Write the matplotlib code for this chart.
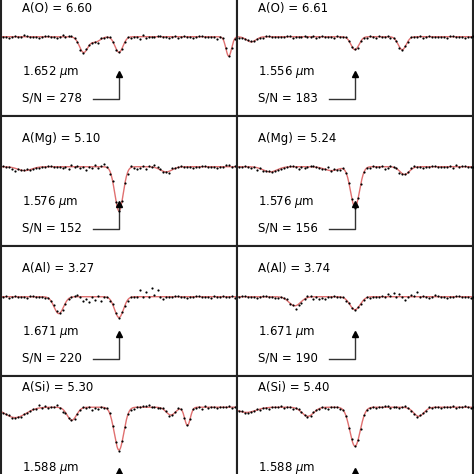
import numpy as np
import matplotlib
matplotlib.use("Agg")
import matplotlib.pyplot as plt

labels = ["A(O) = 6.60", "A(O) = 6.61", "A(Mg) = 5.10", "A(Mg) = 5.24",
          "A(Al) = 3.27", "A(Al) = 3.74", "A(Si) = 5.30", "A(Si) = 5.40"]
waves = ["1.652", "1.556", "1.576", "1.576", "1.671", "1.671", "1.588", "1.588"]
snr = ["278", "183", "152", "156", "220", "190", None, None]
cont = [0.61, 0.61, 0.61, 0.61, 0.61, 0.61, 0.76, 0.76]
centers = [[0.35, 0.40, 0.50, 0.965], [0.06, 0.50, 0.70], [0.10, 0.50, 0.70],
           [0.14, 0.40, 0.50, 0.71], [0.245, 0.50], [0.245, 0.50],
           [0.06, 0.30, 0.50, 0.72, 0.79], [0.04, 0.30, 0.50, 0.77]]
depths = [[0.12, 0.04, 0.12, 0.15], [0.04, 0.10, 0.10], [0.03, 0.34, 0.04],
          [0.04, 0.03, 0.31, 0.06], [0.13, 0.16], [0.07, 0.10],
          [0.08, 0.10, 0.33, 0.06, 0.14], [0.04, 0.07, 0.30, 0.07]]
widths = [[0.018, 0.02, 0.017, 0.012], [0.02, 0.017, 0.017], [0.03, 0.018, 0.025],
          [0.03, 0.03, 0.019, 0.02], [0.02, 0.019], [0.025, 0.022],
          [0.045, 0.02, 0.02, 0.02, 0.012], [0.04, 0.025, 0.022, 0.022]]
resid = [
    [0, -1, 1, 0, 1, 0, -1, 1, 0, -1, 2, 1, 0, -1, 1, 0, -2, 0, 1, -1, 0, 1, 0, -2, -1, 0, 1, 0, -1, 1, 0, 0, -1, 1, 0, 0, -2, 1, 0, 0],
    [-1, 0, 1, 0, -1, 1, 0, 0, 1, -1, 0, 1, 0, -1, 1, 0, -1, 0, 1, 0, -1, 0, 1, -1, 0, 1, 0, -1, 0, 1, 0, -1, 1, 0, 0, -1, 1, 0, -1, 0],
    [1, 0, -3, 0, 1, 0, -1, 0, 1, 0, -1, -2, 0, -1, -3, -1, -1, 3, -2, -1, 0, -2, -1, -1, -2, 0, 1, -1, -2, 0, 1, 0, -1, 0, 1, 0, -1, 0, 2, 1],
    [0, 1, -1, -2, -1, 1, 0, -1, 0, 1, -2, -1, 1, 0, -1, 3, 1, -1, 0, 0, 1, 0, -1, 0, 1, -1, 0, -2, 0, 1, 0, -1, 0, 1, 0, 0, -1, 0, 1, 0],
    [0, -1, 1, 0, -1, 1, 0, -1, 0, 1, -1, 0, 1, 0, -2, 0, 1, 0, -1, 0, 1, -1, 0, 6, 5, 8, 6, -2, 0, 1, 0, -1, 0, 1, 0, -1, 0, 1, 0, -1],
    [0, 1, 0, -1, 1, 0, -1, 0, 1, 0, -1, 0, 1, 0, -1, 0, 1, 0, -1, 0, 1, 0, -1, 0, 1, 3, 4, 3, -3, 2, 5, 1, -1, 2, 0, -1, 0, 1, 0, -1],
    [0, 1, 0, -1, 0, 1, 3, 1, 0, 2, -3, 0, -1, 0, -1, -3, -2, 0, 1, 0, 1, 0, -1, 0, 1, 0, -1, 1, -1, 0, 1, 0, 1, 0, 1, 0, -1, 0, 1, 0],
    [0, -1, 0, 1, 0, -1, 0, 1, 0, -1, 1, 0, -1, 0, 1, -2, 0, -1, 0, 1, 0, 1, 0, -1, 0, 1, 0, -1, 1, 0, -1, 0, 1, 0, -1, 0, 1, 0, 1, -1],
]

def model(x, i):
    y = np.full_like(x, cont[i])
    for c, d, w in zip(centers[i], depths[i], widths[i]):
        y -= d * np.exp(-(x - c) ** 2 / (2 * w ** 2))
    return y

W = H = 474
fig = plt.figure(figsize=(W / 100, H / 100), dpi=100)
red = "#e07070"
for i in range(8):
    r, c = divmod(i, 2)
    top = -14 + 130 * r
    x0 = 1 if c == 0 else 237
    ax = fig.add_axes([x0 / W, 1 - (top + 130) / H, 236 / W, 130 / H])
    ax.set_xlim(0, 1); ax.set_ylim(0, 1)
    ax.set_xticks([]); ax.set_yticks([])
    for s in ax.spines.values():
        s.set_linewidth(1.5); s.set_color("#222")
    xm = np.linspace(0, 1, 400)
    ax.plot(xm, model(xm, i), color=red, lw=1.0, zorder=2)
    xo = np.linspace(0.01, 0.99, len(resid[i]))
    xo2 = xo + 0.012
    yo = model(xo, i) + np.array(resid[i]) * 0.008
    yo2 = model(xo2, i) - np.array(resid[i][::-1]) * 0.005
    ax.scatter(np.r_[xo, xo2], np.r_[yo, yo2], s=2.5, color="black", zorder=3, lw=0)
    si = i >= 6
    ax.text(0.09, 0.91 if si else 0.83, labels[i], fontsize=8.5, va="center")
    ax.text(0.09, 0.29 if si else 0.34, waves[i] + r" $\mu$m", fontsize=8.5, va="center")
    tip = 0.27 if si else 0.32
    if snr[i]:
        ax.text(0.09, 0.14, "S/N = " + snr[i], fontsize=8.5, va="center")
        ax.plot([0.39, 0.5, 0.5], [0.13, 0.13, tip - 0.03], color="#333", lw=1)
    else:
        ax.plot([0.5, 0.5], [0.0, tip - 0.03], color="#333", lw=1)
    ax.plot([0.5], [tip], marker="^", color="black", ms=4)
fig.savefig("out.png", dpi=100)
